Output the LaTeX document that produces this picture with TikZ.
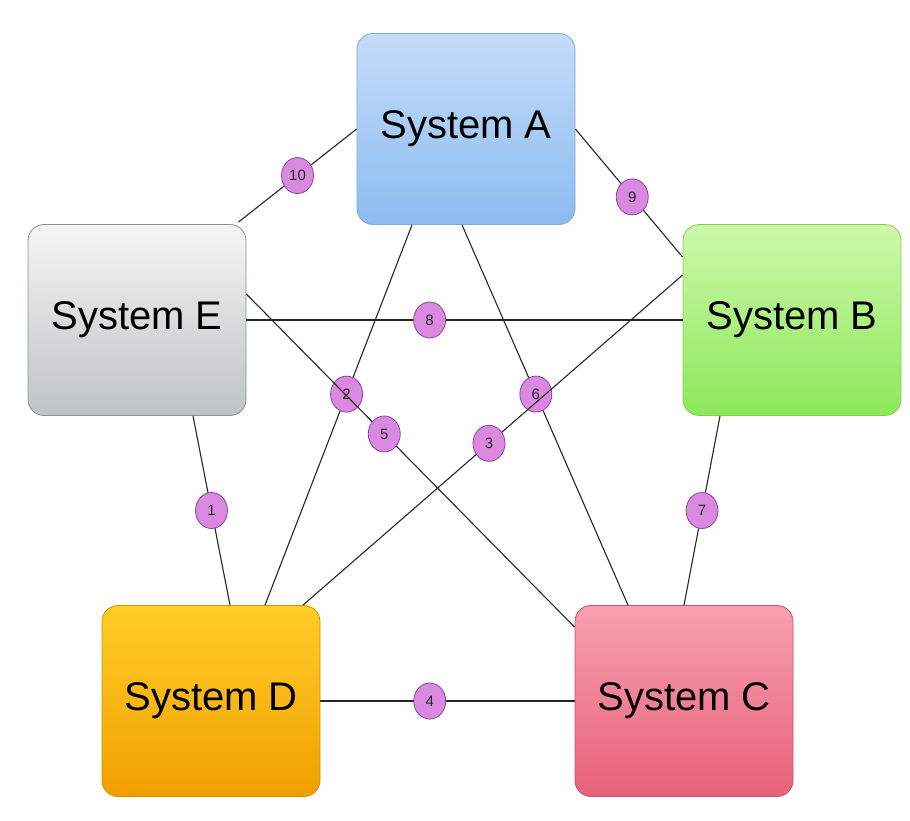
\documentclass[tikz,border=0pt]{standalone}
\usepackage{fontspec}
\usetikzlibrary{shapes.geometric}
\setmainfont{Liberation Sans}
\definecolor{bA}{HTML}{7FA8D8}
\definecolor{bB}{HTML}{86D050}
\definecolor{bE}{HTML}{8C9090}
\definecolor{bD}{HTML}{D89000}
\definecolor{bC}{HTML}{C85068}
\definecolor{tA}{HTML}{C4DCF8}\definecolor{uA}{HTML}{8CBCF0}
\definecolor{tB}{HTML}{CDF8AA}\definecolor{uB}{HTML}{8CE85A}
\definecolor{tE}{HTML}{F5F5F5}\definecolor{uE}{HTML}{BEC3C3}
\definecolor{tD}{HTML}{FFCD28}\definecolor{uD}{HTML}{F0A000}
\definecolor{tC}{HTML}{F8A0B0}\definecolor{uC}{HTML}{E8607A}
\definecolor{lbl}{HTML}{D98AE0}
\definecolor{lbd}{HTML}{9040A0}
\begin{document}
\begin{tikzpicture}[x=1pt,y=-1pt,
 sys/.style={draw=b#1,top color=t#1,bottom color=u#1,line width=0.8pt,rounded corners=16pt,minimum width=218pt,minimum height=191pt,font=\fontsize{40}{44}\selectfont},
 lab/.style={ellipse,draw=lbd,line width=0.8pt,fill=lbl,inner sep=0pt,minimum width=32pt,minimum height=36pt,font=\fontsize{15}{16}\selectfont},
 ln/.style={line width=1.1pt,black!85}]
\useasboundingbox (0,0) rectangle (910,820);
\node[sys=A] (A) at (466,129) {System A};
\node[sys=B] (B) at (792,320) {System B};
\node[sys=E] (E) at (137,320) {System E};
\node[sys=D] (D) at (211,701) {System D};
\node[sys=C] (C) at (684,701) {System C};
\begin{scope}[ln]
\draw ([xshift=-8pt,yshift=2pt]E.north east) -- node[lab]{10} (A.west);
\draw (A.east) -- node[lab,pos=0.53]{9} ([yshift=-33pt]B.north west);
\draw (E.east) -- node[lab,pos=0.42]{8} (B.west);
\draw ([xshift=-54pt]A.south) -- node[lab,pos=0.445]{2} ([xshift=54pt]D.north);
\draw ([xshift=-4pt]A.south) -- node[lab,pos=0.445]{6} ([xshift=-56pt]C.north);
\draw ([yshift=-70pt]E.north east) -- node[lab,pos=0.42]{5} ([yshift=-22pt]C.north west);
\draw ([yshift=45pt]B.west) -- node[lab,pos=0.51]{3} ([xshift=92pt]D.north);
\draw ([xshift=56pt]E.south) -- node[lab]{1} ([xshift=19pt]D.north);
\draw ([xshift=-72pt]B.south) -- node[lab]{7} (C.north);
\draw (D.east) -- node[lab,pos=0.43]{4} (C.west);
\end{scope}
\end{tikzpicture}
\end{document}
